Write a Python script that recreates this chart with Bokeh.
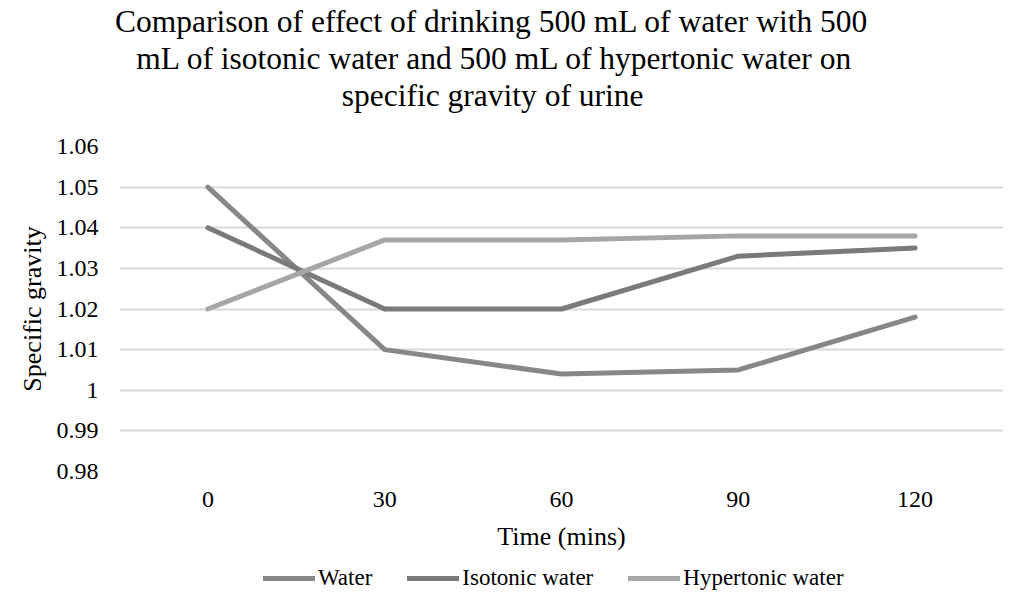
from bokeh.plotting import figure
from bokeh.layouts import column
from bokeh.models import (FactorRange, Range1d, FixedTicker, CustomJSTickFormatter,
                          Legend, LegendItem, Title)
from bokeh.embed import file_html
from bokeh.resources import INLINE

# Time points (mins) and specific gravity readings
times = ["0", "30", "60", "90", "120"]
water = [1.050, 1.010, 1.004, 1.005, 1.018]
isotonic = [1.040, 1.020, 1.020, 1.033, 1.035]
hypertonic = [1.020, 1.037, 1.037, 1.038, 1.038]
y_ticks = [0.98, 0.99, 1.00, 1.01, 1.02, 1.03, 1.04, 1.05, 1.06]

series_names = ["Water", "Isotonic water", "Hypertonic water"]
series_colors = ["#878787", "#7a7a7a", "#a6a6a6"]

title_lines = [
    "Comparison of effect of drinking 500 mL of water with 500",
    "mL of isotonic water and 500 mL of hypertonic water on",
    "specific gravity of urine",
]
# distance of each heading line's right end from the frame's right edge
title_right_offsets = [135, 150, 360]

FONT = "Liberation Serif"

p = figure(
    width=1009, height=560,
    x_range=FactorRange(factors=times, range_padding=0),
    y_range=Range1d(0.98, 1.06),
    output_backend="svg", toolbar_location=None,
    min_border_left=119, min_border_right=6,
    min_border_top=146, min_border_bottom=89,
    outline_line_color=None,
)

# Heading: titles stack outward from the frame, so the gap goes in first
p.add_layout(Title(text=" ", text_font=FONT, text_font_size="29px",
                   standoff=0), "above")
for line, off in reversed(list(zip(title_lines, title_right_offsets))):
    p.add_layout(Title(text=line, align="right", offset=off, text_font=FONT,
                       text_font_size="31.5px", text_font_style="normal",
                       text_color="#000000", standoff=0), "above")

# Axes
p.xaxis.axis_label = "Time (mins)"
p.yaxis.axis_label = "Specific gravity"
for ax in (p.xaxis[0], p.yaxis[0]):
    ax.axis_line_color = None
    ax.major_tick_line_color = None
    ax.minor_tick_line_color = None
    ax.major_label_text_font = FONT
    ax.major_label_text_font_size = "24px"
    ax.major_label_text_color = "#000000"
    ax.axis_label_text_font = FONT
    ax.axis_label_text_font_size = "26px"
    ax.axis_label_text_font_style = "normal"
    ax.axis_label_text_color = "#000000"

p.yaxis.ticker = FixedTicker(ticks=y_ticks)
p.yaxis.formatter = CustomJSTickFormatter(
    code="return tick.toFixed(2).replace(/0+$/, '').replace(/\\.$/, '');")
p.yaxis.major_label_standoff = 15
p.yaxis.axis_label_standoff = 7
p.xaxis.major_label_standoff = 14
p.xaxis.axis_label_standoff = 12

p.xgrid.grid_line_color = None
p.ygrid.grid_line_color = "#d9d9d9"
p.ygrid.grid_line_width = 2

for vals, color in zip([water, isotonic, hypertonic], series_colors):
    p.line(times, vals, line_color=color, line_width=5,
           line_join="round", line_cap="round")

# Legend strip under the chart; its frame lines up with the chart's frame
leg = figure(
    width=1009, height=47, x_range=Range1d(0, 1), y_range=Range1d(0, 1),
    output_backend="svg", toolbar_location=None,
    x_axis_location=None, y_axis_location=None,
    min_border=0, outline_line_color=None,
)
leg.grid.visible = False
items = []
for name, color in zip(series_names, series_colors):
    # swatch renderers sit outside the visible range; only their legend entries show
    r = leg.line([-2, -1], [-2, -2], line_color=color, line_width=5, line_cap="round")
    items.append(LegendItem(label=name, renderers=[r]))

legend = Legend(items=items, orientation="horizontal", location=(144, 16),
                border_line_color=None, background_fill_alpha=0,
                label_text_font=FONT, label_text_font_size="23px",
                label_text_color="#000000", glyph_width=52,
                label_standoff=3, spacing=35, padding=0, margin=0)
leg.add_layout(legend, "center")

open("out.html", "w").write(file_html(column(p, leg, spacing=0), INLINE))
